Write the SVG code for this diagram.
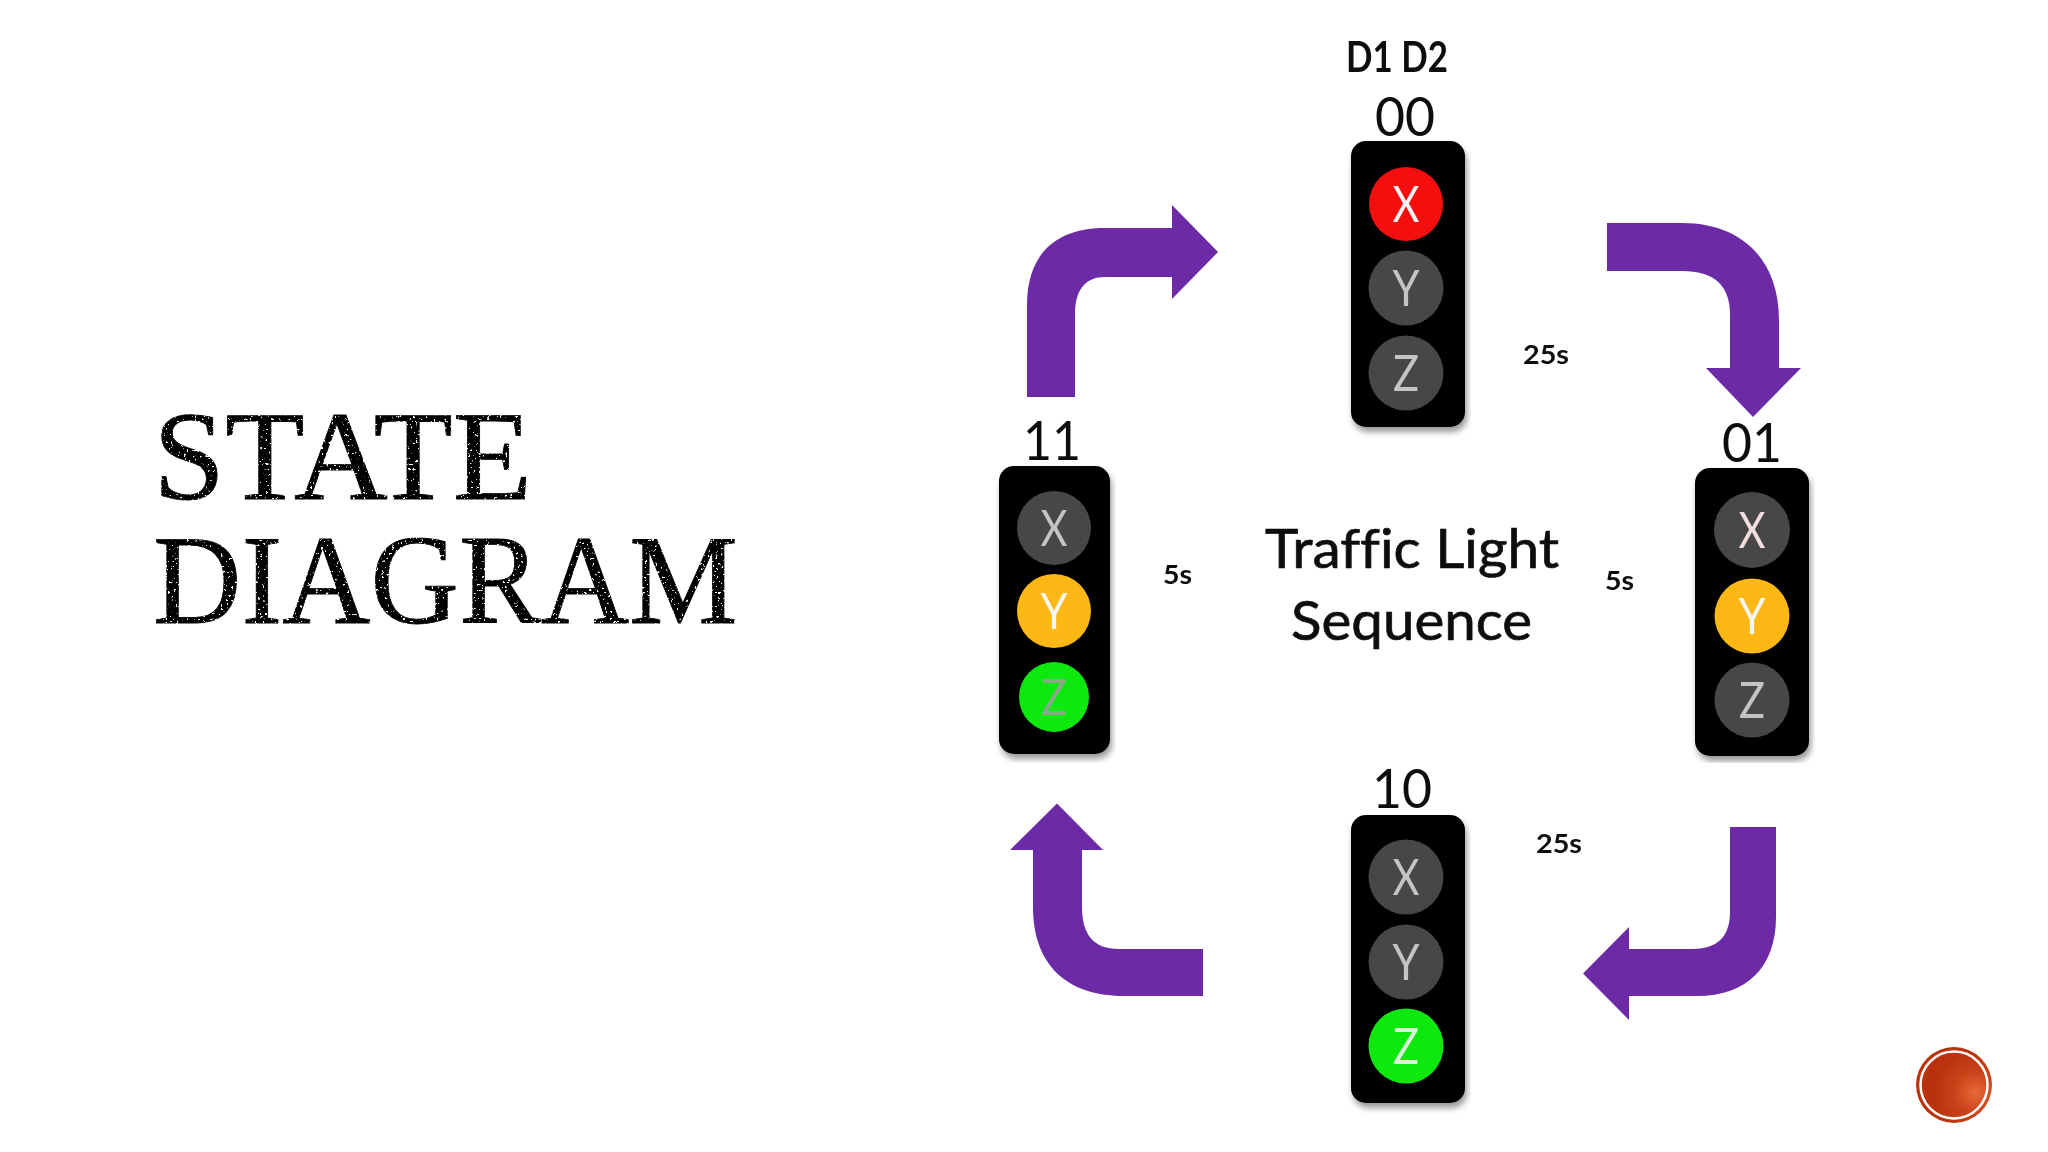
<svg xmlns="http://www.w3.org/2000/svg" width="2048" height="1152" viewBox="0 0 2048 1152">
<style>
.sans{font-family:Lato,"Noto Sans",sans-serif;fill:#0b0b0b;font-variant-ligatures:none}
.state{font-size:55px}
.time{font-size:27px;font-weight:700}
.cap{font-size:55px;stroke:#0b0b0b;stroke-width:0.7px}
.title{font-family:"Liberation Serif","DejaVu Serif",serif;font-size:127px;fill:#050505;stroke:#050505;stroke-width:0.8px}
.body{fill:#000;filter:url(#shadow)}
.off{fill:#474747}
.red{fill:#f60c0c}
.amber{fill:#fdb813}
.green{fill:#10e810}
.ltr{font-family:Lato,"Noto Sans",sans-serif;font-size:50px;font-weight:400;text-anchor:middle;fill:#c4c4c4}
.w{fill:#f6f6f6}
.arrow{fill:#6d2ca6}
</style>
<defs>
<filter id="shadow" x="-15%" y="-10%" width="130%" height="120%">
<feDropShadow dx="2" dy="5" stdDeviation="3" flood-color="#000" flood-opacity="0.4"/>
</filter>
<filter id="soft" x="-5%" y="-5%" width="110%" height="110%">
<feGaussianBlur stdDeviation="0.7"/>
</filter>
<filter id="speckle" x="-2%" y="-5%" width="104%" height="110%">
<feTurbulence type="fractalNoise" baseFrequency="0.38" numOctaves="2" seed="7" result="n"/>
<feColorMatrix in="n" type="matrix" values="0 0 0 0 0 0 0 0 0 0 0 0 0 0 0 0 0 0 -14 4.7" result="m"/>
<feComposite in="SourceGraphic" in2="m" operator="out"/>
</filter>
<radialGradient id="badge" cx="0.78" cy="0.6" r="0.55">
<stop offset="0" stop-color="#e8683a"/>
<stop offset="0.5" stop-color="#c9431a"/>
<stop offset="1" stop-color="#b9330a"/>
</radialGradient>
</defs>
<rect width="2048" height="1152" fill="#fff"/>

<g id="title" filter="url(#speckle)">
<text class="title" x="153" y="499" textLength="379" lengthAdjust="spacingAndGlyphs">STATE</text>
<text class="title" x="153" y="623" textLength="585" lengthAdjust="spacingAndGlyphs">DIAGRAM</text>
</g>

<g id="connectors" filter="url(#soft)">
<path id="arrow-11-00" class="arrow" d="M1027 397V305C1027 255 1055 228 1105 228H1172V205L1218 252L1172 299V277H1105C1085 277 1075 290 1075 315V397Z"/>
<path id="arrow-00-01" class="arrow" d="M1607 223H1682C1742 223 1779 260 1779 320V368H1801L1753 417L1706 368H1730V315C1730 285 1714 271 1682 271H1607Z"/>
<path id="arrow-01-10" class="arrow" d="M1730 827H1776V917C1776 967 1747 996 1697 996H1629V1020L1583 973.5L1629 927V949H1692C1717 949 1730 937 1730 912Z"/>
<path id="arrow-10-11" class="arrow" d="M1203 949V996H1124C1064 996 1033 962 1033 907V850H1010L1057 803.5L1103 850H1082V907C1082 935 1094 949 1119 949Z"/>
</g>

<g id="header" filter="url(#soft)"><text class="sans" x="1346" y="72" font-size="42" font-weight="700" textLength="102" lengthAdjust="spacingAndGlyphs">D1 D2</text></g>

<g id="light-00" filter="url(#soft)">
<text class="sans state" x="1375" y="136" textLength="60" lengthAdjust="spacingAndGlyphs">00</text>
<rect class="body" x="1351" y="141" width="114" height="286" rx="15"/>
<circle class="red" cx="1406" cy="204" r="37"/><text class="ltr w" x="1406" y="222" textLength="27" lengthAdjust="spacingAndGlyphs">X</text>
<circle class="off" cx="1406" cy="288" r="37.5"/><text class="ltr" x="1406" y="306" textLength="27" lengthAdjust="spacingAndGlyphs">Y</text>
<circle class="off" cx="1406" cy="373" r="37.5"/><text class="ltr" x="1406" y="391" textLength="26" lengthAdjust="spacingAndGlyphs">Z</text>
</g>

<g id="light-01" filter="url(#soft)">
<text class="sans state" x="1722" y="462" textLength="60" lengthAdjust="spacingAndGlyphs">01</text>
<rect class="body" x="1695" y="468" width="114" height="288" rx="15"/>
<circle class="off" cx="1752" cy="530" r="38"/><text class="ltr w" x="1752" y="548" textLength="27" lengthAdjust="spacingAndGlyphs" style="fill:#f3dede">X</text>
<circle class="amber" cx="1752" cy="616" r="37.5"/><text class="ltr w" x="1752" y="634" textLength="27" lengthAdjust="spacingAndGlyphs">Y</text>
<circle class="off" cx="1752" cy="700" r="37.5"/><text class="ltr" x="1752" y="718" textLength="26" lengthAdjust="spacingAndGlyphs">Z</text>
</g>

<g id="light-11" filter="url(#soft)">
<text class="sans state" x="1023" y="460" textLength="58" lengthAdjust="spacingAndGlyphs">11</text>
<rect class="body" x="999" y="466" width="111" height="288" rx="15"/>
<circle class="off" cx="1054" cy="528" r="37"/><text class="ltr" x="1054" y="546" textLength="27" lengthAdjust="spacingAndGlyphs">X</text>
<circle class="amber" cx="1054" cy="611" r="37"/><text class="ltr w" x="1054" y="629" textLength="27" lengthAdjust="spacingAndGlyphs">Y</text>
<circle class="green" cx="1054" cy="697" r="35"/><text class="ltr" x="1054" y="715" textLength="26" lengthAdjust="spacingAndGlyphs" style="fill:#8aa88a">Z</text>
</g>

<g id="light-10" filter="url(#soft)">
<text class="sans state" x="1372" y="808" textLength="60" lengthAdjust="spacingAndGlyphs">10</text>
<rect class="body" x="1351" y="815" width="114" height="288" rx="15"/>
<circle class="off" cx="1406" cy="877" r="37.5"/><text class="ltr" x="1406" y="895" textLength="27" lengthAdjust="spacingAndGlyphs">X</text>
<circle class="off" cx="1406" cy="962" r="37.5"/><text class="ltr" x="1406" y="980" textLength="27" lengthAdjust="spacingAndGlyphs">Y</text>
<circle class="green" cx="1406" cy="1046" r="37.5"/><text class="ltr" x="1406" y="1064" textLength="26" lengthAdjust="spacingAndGlyphs" style="fill:#d8f5d8">Z</text>
</g>

<g id="labels" filter="url(#soft)">
<text class="sans time" x="1523" y="364" textLength="46" lengthAdjust="spacingAndGlyphs">25s</text>
<text class="sans time" x="1536" y="853" textLength="46" lengthAdjust="spacingAndGlyphs">25s</text>
<text class="sans time" x="1163" y="584" textLength="29" lengthAdjust="spacingAndGlyphs">5s</text>
<text class="sans time" x="1605" y="590" textLength="29" lengthAdjust="spacingAndGlyphs">5s</text>
<text class="sans cap" x="1265" y="568" textLength="294" lengthAdjust="spacingAndGlyphs">Traffic Light</text>
<text class="sans cap" x="1291" y="640" textLength="241" lengthAdjust="spacingAndGlyphs">Sequence</text>
</g>

<g id="badge-mark" filter="url(#soft)">
<circle cx="1954" cy="1085" r="38" fill="url(#badge)"/>
<circle cx="1954" cy="1085" r="33.5" fill="none" stroke="#fff" stroke-width="2.5"/>
</g>
</svg>
